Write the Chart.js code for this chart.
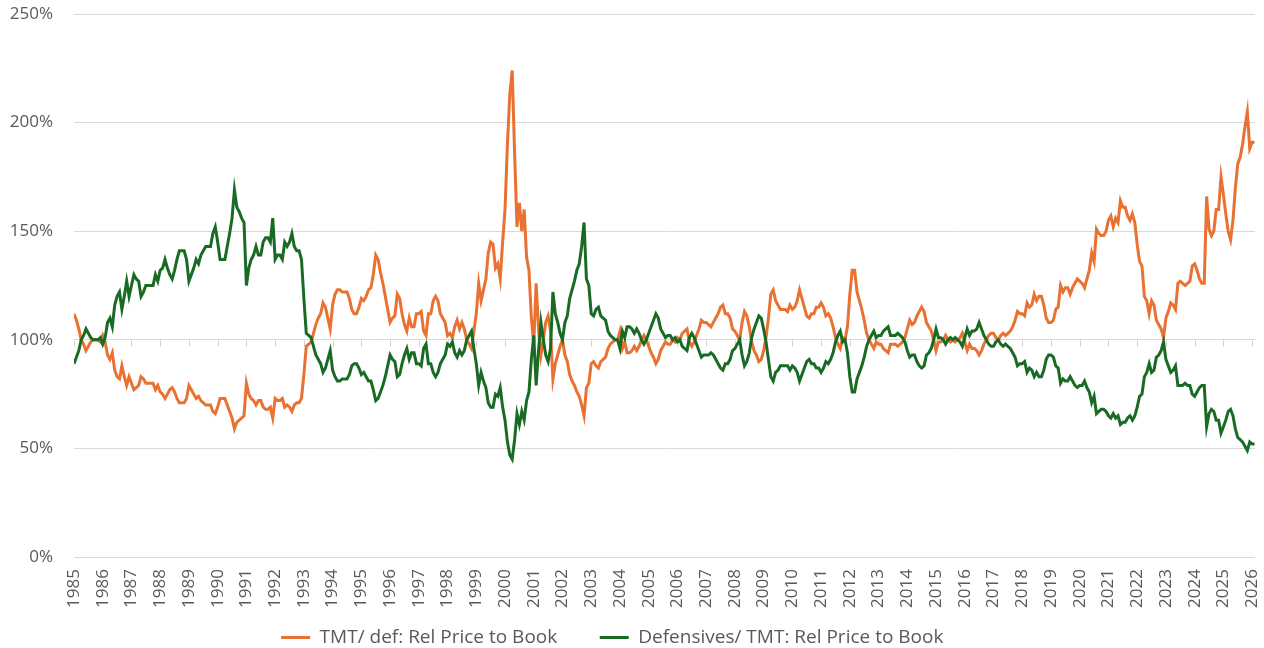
<!DOCTYPE html>
<html>
<head>
<meta charset="utf-8">
<script src="https://cdn.jsdelivr.net/npm/chart.js@4.4.1/dist/chart.umd.min.js"></script>
<style>
  html, body { margin: 0; padding: 0; background: #fff; }
  #wrap { width: 1264px; height: 648px; position: relative; }
</style>
</head>
<body>
<div id="wrap"><canvas id="chart"></canvas></div>
<script>
// monthly values, Jan 1985 onwards, in percent
const startYear = 1985;

const tmtDef = [
  112,109,105,100,98,95,97,99,100,100,100,99,      // 1985
  102,99,93,91,94,86,83,82,88,83,79,83,            // 1986
  80,77,78,79,83,82,80,80,80,80,77,79,             // 1987
  76,75,73,75,77,78,76,73,71,71,71,73,             // 1988
  79,77,75,73,74,72,71,70,70,70,67,66,             // 1989
  69,73,73,73,70,67,64,59,62,63,64,65,             // 1990
  80,75,73,72,70,72,72,69,68,68,69,64,             // 1991
  73,72,72,73,69,70,69,67,70,71,71,73,             // 1992
  84,97,98,99,103,107,110,112,117,115,110,105,     // 1993
  116,121,123,123,122,122,122,119,114,112,112,115, // 1994
  119,118,120,123,124,130,139,137,131,126,120,114, // 1995
  108,110,111,121,119,112,107,104,110,106,106,112, // 1996
  112,113,104,102,112,112,118,120,118,112,110,108, // 1997
  102,103,101,106,109,105,108,105,100,98,96,104,   // 1998
  112,126,118,123,128,140,145,144,133,135,128,145, // 1999
  160,190,213,224,186,152,163,150,160,138,132,110, // 2000
  98,126,105,93,100,108,111,104,82,89,93,97,       // 2001
  100,93,90,84,81,79,76,74,70,65,78,80,            // 2002
  89,90,88,87,90,91,92,96,98,99,100,100,           // 2003
  104,96,99,94,94,95,97,95,97,100,102,100,         // 2004
  97,94,92,89,91,95,97,99,98,98,100,99,            // 2005
  101,100,103,104,105,99,97,99,102,105,109,108,    // 2006
  108,107,106,108,110,112,115,116,112,112,110,105, // 2007
  104,102,100,108,113,111,106,99,95,93,90,91,      // 2008
  95,101,110,121,123,118,116,114,114,114,113,116,  // 2009
  114,115,118,123,119,115,111,110,112,112,115,115, // 2010
  117,115,111,112,110,106,101,98,96,101,100,106,   // 2011
  121,132,132,122,118,114,109,103,100,98,96,99,    // 2012
  98,98,96,95,94,98,98,98,97,98,99,101,            // 2013
  105,109,107,108,111,113,115,113,108,106,104,100, // 2014
  95,99,99,100,102,100,99,100,99,100,101,103,      // 2015
  99,95,98,96,96,95,93,95,98,100,102,103,          // 2016
  103,101,100,102,103,102,103,104,106,109,113,112, // 2017
  112,111,117,115,116,121,118,120,120,116,110,108, // 2018
  108,109,114,115,125,122,124,124,121,124,126,128, // 2019
  127,126,124,128,132,140,136,151,149,148,148,150, // 2020
  155,157,152,156,154,164,161,161,157,155,158,154, // 2021
  144,136,134,120,118,112,118,116,109,107,105,101, // 2022
  110,113,117,116,114,126,127,126,125,126,127,134, // 2023
  135,132,128,126,126,166,151,148,150,160,160,175, // 2024
  167,158,150,146,155,170,181,184,190,198,205,188, // 2025
  191,191                                          // 2026
];

const defTmt = [
  89,92,95,100,102,105,103,101,100,100,100,101,
  98,101,108,110,106,116,120,122,114,120,127,120,
  125,130,128,127,120,122,125,125,125,125,130,127,
  132,133,137,133,130,128,132,137,141,141,141,137,
  127,130,133,137,135,139,141,143,143,143,149,152,
  145,137,137,137,143,149,156,169,161,159,156,154,
  125,133,137,139,143,139,139,145,147,147,145,156,
  137,139,139,137,145,143,145,149,143,141,141,137,
  119,103,102,101,97,93,91,89,85,87,91,95,
  86,83,81,81,82,82,82,84,88,89,89,87,
  84,85,83,81,81,77,72,73,76,79,83,88,
  93,91,90,83,84,89,93,96,91,94,94,89,
  89,88,96,98,89,89,85,83,85,89,91,93,
  98,97,99,94,92,95,93,95,100,102,104,96,
  89,79,85,81,78,71,69,69,75,74,78,69,
  63,53,47,45,54,66,61,67,63,72,76,91,
  102,79,95,108,100,93,90,96,122,112,108,103,
  100,108,111,119,123,127,132,135,143,154,128,125,
  112,111,114,115,111,110,109,104,102,101,100,100,
  96,104,101,106,106,105,103,105,103,100,98,100,
  103,106,109,112,110,105,103,101,102,102,100,101,
  99,100,97,96,95,101,103,101,98,95,92,93,
  93,93,94,93,91,89,87,86,89,89,91,95,
  96,98,100,93,88,90,94,101,105,108,111,110,
  105,99,91,83,81,85,86,88,88,88,88,86,
  88,87,85,81,84,87,90,91,89,89,87,87,
  85,87,90,89,91,94,99,102,104,99,100,94,
  83,76,76,82,85,88,92,97,100,102,104,101,
  102,102,104,105,106,102,102,102,103,102,101,99,
  95,92,93,93,90,88,87,88,93,94,96,100,
  105,101,101,100,98,100,101,100,101,100,99,97,
  101,105,102,104,104,105,108,105,102,100,98,97,
  97,99,100,98,97,98,97,96,94,92,88,89,
  89,90,85,87,86,83,85,83,83,86,91,93,
  93,92,88,87,80,82,81,81,83,81,79,78,
  79,79,81,78,76,71,74,66,67,68,68,67,
  65,64,66,64,65,61,62,62,64,65,63,65,
  69,74,75,83,85,89,85,86,92,93,95,99,
  91,88,85,86,88,79,79,79,80,79,79,75,
  74,76,78,79,79,60,66,68,67,63,63,57,
  60,63,67,68,65,59,55,54,53,51,49,53,
  52,52
];

const seriesNames = ['TMT/ def: Rel Price to Book', 'Defensives/ TMT: Rel Price to Book'];
const seriesColors = ['#E97132', '#196B24'];

const toPoints = arr => arr.map((v, i) => ({ x: startYear + i / 12, y: v }));

// small year tick marks sitting on the 100% line, like the Excel axis crossing
const yearTicks = {
  id: 'yearTicks',
  beforeDatasetsDraw(chart) {
    const { ctx, scales: { x, y } } = chart;
    const y0 = Math.round(y.getPixelForValue(100)) + 0.5;
    ctx.save();
    ctx.strokeStyle = '#d0d0d0';
    ctx.lineWidth = 1;
    x.ticks.forEach(t => {
      const px = Math.round(x.getPixelForValue(t.value)) + 0.5;
      ctx.beginPath();
      ctx.moveTo(px, y0);
      ctx.lineTo(px, y0 + 6);
      ctx.stroke();
    });
    ctx.restore();
  }
};

Chart.defaults.font.family = "'Open Sans', 'Liberation Sans', sans-serif";
Chart.defaults.color = '#595959';

new Chart(document.getElementById('chart'), {
  type: 'line',
  data: {
    datasets: [
      {
        label: seriesNames[0],
        data: toPoints(tmtDef),
        borderColor: seriesColors[0],
        backgroundColor: seriesColors[0],
        borderWidth: 3,
        pointRadius: 0,
        order: 1
      },
      {
        label: seriesNames[1],
        data: toPoints(defTmt),
        borderColor: seriesColors[1],
        backgroundColor: seriesColors[1],
        borderWidth: 3,
        pointRadius: 0,
        order: 0
      }
    ]
  },
  options: {
    responsive: true,
    maintainAspectRatio: false,
    animation: false,
    layout: { padding: { left: 10, right: 9, top: 14, bottom: -9 } },
    scales: {
      x: {
        type: 'linear',
        min: 1985,
        max: 2026.1,
        grid: { display: false, drawTicks: false },
        border: { display: false },
        ticks: {
          stepSize: 1,
          includeBounds: false,
          autoSkip: false,
          minRotation: 90,
          maxRotation: 90,
          padding: 12,
          font: { size: 17 },
          callback: v => String(v)
        },
        // fixed band for the year labels, with room left above the legend
        afterFit: scale => {
          scale.height = 69;
          scale.paddingLeft = 0;
          scale.paddingRight = 0;
        }
      },
      y: {
        min: 0,
        max: 250,
        grid: { color: '#d9d9d9', drawTicks: false },
        border: { display: false },
        ticks: {
          stepSize: 50,
          padding: 21,
          font: { size: 17 },
          callback: v => v + '%'
        },
        afterFit: scale => {
          scale.width = 64;
          scale.paddingTop = 0;
          scale.paddingBottom = 0;
        }
      }
    },
    plugins: {
      legend: {
        position: 'bottom',
        labels: {
          usePointStyle: true,
          pointStyle: 'line',
          pointStyleWidth: 29,
          padding: 2,
          font: { size: 19 },
          // keep dataset order; empty spacers give the gap between entries
          // and nudge the whole legend a little left, as in the original
          generateLabels: chart => {
            const items = Chart.defaults.plugins.legend.labels.generateLabels(chart)
              .sort((a, b) => a.datasetIndex - b.datasetIndex);
            const spacer = { text: '', fillStyle: 'rgba(0,0,0,0)', strokeStyle: 'rgba(0,0,0,0)', lineWidth: 0, pointStyle: 'line', hidden: false };
            return [items[0], spacer, items[1], { ...spacer }];
          }
        },
        onClick: () => {}
      },
      tooltip: { enabled: false }
    }
  },
  plugins: [yearTicks]
});
</script>
</body>
</html>
